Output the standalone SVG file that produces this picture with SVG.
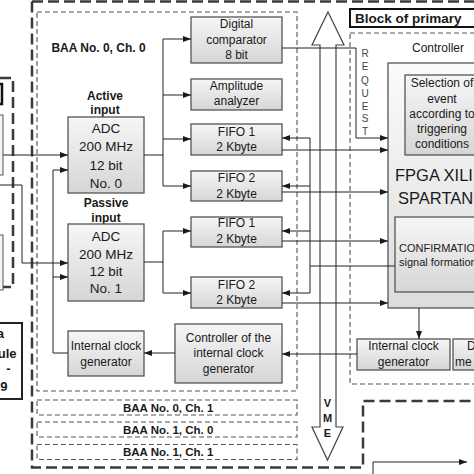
<svg xmlns="http://www.w3.org/2000/svg" width="474" height="474" viewBox="0 0 474 474">
<defs>
<linearGradient id="g" x1="0" y1="0" x2="0" y2="1"><stop offset="0" stop-color="#f6f6f6"/><stop offset="1" stop-color="#d6d6d6"/></linearGradient>
<linearGradient id="g2" x1="0" y1="0" x2="0" y2="1"><stop offset="0" stop-color="#fbfbfb"/><stop offset="1" stop-color="#dcdcdc"/></linearGradient>
<marker id="ah" markerWidth="8" markerHeight="6" refX="8" refY="3" orient="auto" markerUnits="userSpaceOnUse"><path d="M0,0 L8,3 L0,6 z" fill="#1a1a1a"/></marker>
<style>
.box{fill:url(#g);stroke:#555;stroke-width:1.3}
.big{fill:url(#g2);stroke:#555;stroke-width:1.3}
.thick{fill:none;stroke:#3a3a3a;stroke-width:2.5;stroke-dasharray:11 5}
.thin{fill:none;stroke:#555;stroke-width:1.1;stroke-dasharray:5 3}
.ln{fill:none;stroke:#222;stroke-width:1}
.ar{fill:none;stroke:#222;stroke-width:1;marker-end:url(#ah)}
text{font-family:"Liberation Sans",Arial,sans-serif;fill:#1a1a1a}
.t{font-size:12px;text-anchor:middle}
.a{font-size:13.5px;text-anchor:middle}
.b{font-size:12px;font-weight:bold;text-anchor:middle}
</style>
</defs>
<rect width="474" height="474" fill="#fff"/>
<g id="frames">
<path class="thick" d="M32,1.5 H474"/>
<path class="thick" d="M32,1.5 V467.5 H363 V401 H474"/>
<path class="thick" d="M0,78 H13 V287 H0"/>
<rect class="thin" x="37" y="12" width="260" height="379"/>
<rect class="thin" x="37" y="400" width="260" height="15"/>
<rect class="thin" x="37" y="422" width="260" height="15"/>
<rect class="thin" x="37" y="444.5" width="260" height="15"/>
<rect class="thin" x="350" y="33" width="200" height="351"/>
<text class="b" x="98.5" y="52">BAA No. 0, Ch. 0</text>
<text x="123" y="412" style="font-size:11.5px;font-weight:bold">BAA No. 0, Ch. 1</text>
<text x="123" y="433.5" style="font-size:11.5px;font-weight:bold">BAA No. 1, Ch. 0</text>
<text x="123" y="456" style="font-size:11.5px;font-weight:bold">BAA No. 1, Ch. 1</text>
<text x="438" y="52" class="t">Controller</text>
</g>
<g id="left-blocks">
<rect x="-20" y="84" width="22" height="20" fill="#fff" stroke="#111" stroke-width="2.5"/>
<rect x="-20" y="115" width="23" height="60" fill="#f4f4f4" stroke="#555" stroke-width="1"/>
<rect x="-20" y="235" width="23" height="55" fill="#f4f4f4" stroke="#555" stroke-width="1"/>
</g>
<g id="data-module">
<rect x="-20" y="323" width="42" height="76" fill="#fff" stroke="#222" stroke-width="2"/>
<text x="4" y="337.5" style="font-size:13px;font-weight:bold;text-anchor:end">a</text>
<text x="16.5" y="357.5" style="font-size:13px;font-weight:bold;text-anchor:end">ule</text>
<text x="10.5" y="373" style="font-size:13px;font-weight:bold;text-anchor:end">-</text>
<text x="7.5" y="391" style="font-size:13px;font-weight:bold;text-anchor:end">9</text>
</g>
<g id="vme">
<polygon points="328,12 344,45 336,45 336,427 343,427 327.5,460 312,427 320,427 320,45 312,45" fill="#fff" stroke="#444" stroke-width="1.2"/>
<text x="327.5" y="407" style="font-size:11px;font-weight:bold;text-anchor:middle">V</text>
<text x="327.5" y="422" style="font-size:11px;font-weight:bold;text-anchor:middle">M</text>
<text x="327.5" y="437" style="font-size:11px;font-weight:bold;text-anchor:middle">E</text>
</g>
<g id="active-label"><text class="b" x="105" y="100">Active</text><text class="b" x="105" y="114">input</text></g>
<g id="passive-label"><text class="b" x="106" y="207">Passive</text><text class="b" x="106" y="222">input</text></g>
<g id="adc0"><rect class="box" x="68" y="117" width="76" height="76"/>
<text class="a" x="106" y="133">ADC</text><text class="a" x="106" y="151">200 MHz</text><text class="a" x="106" y="170">12 bit</text><text class="a" x="106" y="188">No. 0</text></g>
<g id="adc1"><rect class="box" x="68" y="224" width="76" height="77"/>
<text class="a" x="106" y="241">ADC</text><text class="a" x="106" y="259">200 MHz</text><text class="a" x="106" y="276">12 bit</text><text class="a" x="106" y="293">No. 1</text></g>
<g id="dcomp"><rect class="box" x="191" y="17" width="91" height="46"/>
<text class="t" x="236.5" y="28">Digital</text><text class="t" x="236.5" y="44">comparator</text><text class="t" x="236.5" y="59">8 bit</text></g>
<g id="amp"><rect class="box" x="191" y="79" width="91" height="31"/>
<text class="t" x="236.5" y="90">Amplitude</text><text class="t" x="236.5" y="105">analyzer</text></g>
<g id="fifo1a"><rect class="box" x="191" y="124" width="91" height="31"/>
<text class="t" x="236.5" y="136">FIFO 1</text><text class="t" x="236.5" y="151">2 Kbyte</text></g>
<g id="fifo2a"><rect class="box" x="191" y="171" width="91" height="30"/>
<text class="t" x="236.5" y="182">FIFO 2</text><text class="t" x="236.5" y="198">2 Kbyte</text></g>
<g id="fifo1b"><rect class="box" x="191" y="217" width="91" height="30"/>
<text class="t" x="236.5" y="227">FIFO 1</text><text class="t" x="236.5" y="243">2 Kbyte</text></g>
<g id="fifo2b"><rect class="box" x="191" y="277" width="91" height="31"/>
<text class="t" x="236.5" y="289">FIFO 2</text><text class="t" x="236.5" y="304">2 Kbyte</text></g>
<g id="clk-left"><rect class="box" x="68" y="331" width="76" height="45"/>
<text class="t" x="106" y="350">Internal clock</text><text class="t" x="106" y="366">generator</text></g>
<g id="clk-ctrl"><rect class="box" x="175" y="324" width="107" height="59"/>
<text class="t" x="228.5" y="342">Controller of the</text><text class="t" x="228.5" y="357">internal clock</text><text class="t" x="228.5" y="373">generator</text></g>
<g id="heading"><rect x="350" y="9" width="140" height="18" fill="#fff" stroke="#111" stroke-width="2"/>
<text x="355" y="23" style="font-size:13.5px;font-weight:bold">Block of primary</text></g>
<g id="request"><text x="365" y="57" style="font-size:10px;fill:#444;text-anchor:middle">R</text><text x="365" y="70" style="font-size:10px;fill:#444;text-anchor:middle">E</text><text x="365" y="84" style="font-size:10px;fill:#444;text-anchor:middle">Q</text><text x="365" y="97" style="font-size:10px;fill:#444;text-anchor:middle">U</text><text x="365" y="110" style="font-size:10px;fill:#444;text-anchor:middle">E</text><text x="365" y="122" style="font-size:10px;fill:#444;text-anchor:middle">S</text><text x="365" y="135" style="font-size:10px;fill:#444;text-anchor:middle">T</text></g>
<g id="fpga"><rect class="big" x="388" y="63" width="110" height="245"/>
<text x="395" y="181" style="font-size:16.5px">FPGA XILIN</text><text x="398" y="204" style="font-size:16.5px">SPARTAN-</text></g>
<g id="selection"><rect class="box" x="405" y="75" width="90" height="80"/>
<text class="t" x="442" y="87">Selection of</text><text class="t" x="442" y="103">event</text><text class="t" x="442" y="118">according to</text><text class="t" x="442" y="133">triggering</text><text class="t" x="442" y="148">conditions</text></g>
<g id="confirmation"><rect class="box" x="395" y="217" width="100" height="75"/>
<text x="399" y="252" style="font-size:11px">CONFIRMATION</text><text x="399" y="266" style="font-size:11px">signal formation</text></g>
<g id="clk-right"><rect class="box" x="357" y="339" width="93" height="31"/>
<text class="t" x="403.5" y="350">Internal clock</text><text class="t" x="403.5" y="366">generator</text></g>
<g id="dmem"><rect class="box" x="453" y="339" width="40" height="31"/>
<text x="467" y="350" style="font-size:12px">D</text><text x="455" y="366" style="font-size:12px">me</text></g>
<g id="connectors">
<path class="ar" d="M3,155 H68"/>
<path class="ar" d="M0,185 H22 V263 H68"/>
<path class="ar" d="M68,353 H53 V170 H68"/>
<path class="ar" d="M53,277 H68"/>
<path class="ln" d="M144,155 H163 M163,39 V186"/>
<path class="ar" d="M163,39 H191"/>
<path class="ar" d="M163,95 H191"/>
<path class="ar" d="M163,139 H191"/>
<path class="ar" d="M163,186 H191"/>
<path class="ln" d="M144,262 H163 M163,231 V293"/>
<path class="ar" d="M163,231 H191"/>
<path class="ar" d="M163,293 H191"/>
<path class="ar" d="M282,48 H356 V138 H388"/>
<path class="ar" d="M282,150 H388"/>
<path class="ar" d="M282,192 H388"/>
<path class="ar" d="M282,241 H388"/>
<path class="ar" d="M282,303 H388"/>
<path class="ln" d="M395,266 H310 M310,138 V293"/>
<path class="ar" d="M310,138 H282"/>
<path class="ar" d="M310,186 H282"/>
<path class="ar" d="M310,231 H282"/>
<path class="ar" d="M310,293 H282"/>
<path class="ar" d="M357,354 H282"/>
<path class="ar" d="M175,353 H144"/>
<path class="ar" d="M419,308 V339"/>
<path class="ar" d="M373,474 V462 H467"/>
</g>
</svg>
